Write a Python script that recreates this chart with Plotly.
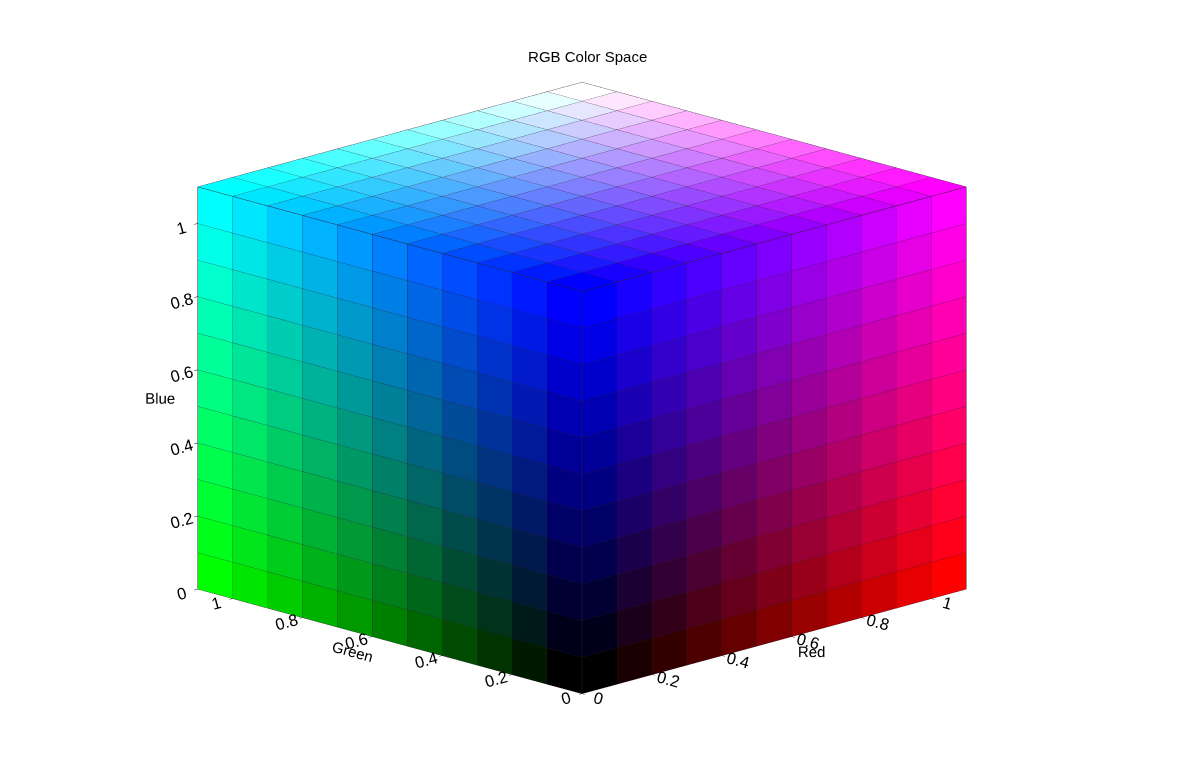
import plotly.graph_objects as go

# colour levels of the small cubes (one per cell along each edge)
levels = [0.0, 0.1, 0.2, 0.3, 0.4, 0.5, 0.6, 0.7, 0.8, 0.9, 1.0]
cell = 0.1
top = 1.1
tick_vals = [0, 0.2, 0.4, 0.6, 0.8, 1]
tick_text = ["0", "0.2", "0.4", "0.6", "0.8", "1"]

xs, ys, zs, I, J, K, fc = [], [], [], [], [], [], []
lx, ly, lz = [], [], []


def rgb(r, g, b):
    return "rgb(%d,%d,%d)" % (round(r * 255), round(g * 255), round(b * 255))


def quad(p0, p1, p2, p3, color):
    n = len(xs)
    for p in (p0, p1, p2, p3):
        xs.append(p[0]); ys.append(p[1]); zs.append(p[2])
    I.extend([n, n]); J.extend([n + 1, n + 2]); K.extend([n + 2, n + 3])
    fc.extend([color, color])
    for p in (p0, p1, p2, p3, p0):
        lx.append(p[0]); ly.append(p[1]); lz.append(p[2])
    lx.append(None); ly.append(None); lz.append(None)


for a in levels:
    for b in levels:
        a0, a1 = a, a + cell
        b0, b1 = b, b + cell
        # red = 0 face (green x blue)
        quad((0, a0, b0), (0, a1, b0), (0, a1, b1), (0, a0, b1), rgb(0, a, b))
        # green = 0 face (red x blue)
        quad((a0, 0, b0), (a1, 0, b0), (a1, 0, b1), (a0, 0, b1), rgb(a, 0, b))
        # blue = top face (red x green)
        quad((a0, b0, top), (a1, b0, top), (a1, b1, top), (a0, b1, top), rgb(a, b, 1))

fig = go.Figure()
fig.add_trace(go.Mesh3d(x=xs, y=ys, z=zs, i=I, j=J, k=K, facecolor=fc,
                        flatshading=True, hoverinfo="skip",
                        lighting=dict(ambient=1, diffuse=0, specular=0, roughness=1, fresnel=0)))
fig.add_trace(go.Scatter3d(x=lx, y=ly, z=lz, mode="lines",
                           line=dict(color="rgb(50,30,50)", width=1), hoverinfo="skip"))

ax = dict(range=[0, top], tickvals=tick_vals, ticktext=tick_text, showgrid=False,
          showbackground=False, zeroline=False, showline=False, showspikes=False,
          tickfont=dict(family="Liberation Sans", size=14, color="black"),
          ticks="outside", ticklen=5, tickcolor="black")
title_font = dict(family="Liberation Sans", size=15, color="black")

fig.update_layout(
    width=1183, height=784, showlegend=False,
    paper_bgcolor="white",
    title=dict(text="RGB Color Space", x=0.49, y=0.945, xanchor="center",
               font=dict(family="Liberation Sans", size=15, color="black")),
    margin=dict(l=0, r=0, t=0, b=0),
    scene=dict(
        xaxis=dict(ax, title=dict(text="Red", font=title_font)),
        yaxis=dict(ax, title=dict(text="Green", font=title_font)),
        zaxis=dict(ax, title=dict(text="Blue", font=title_font)),
        aspectmode="manual",
        aspectratio=dict(x=1.43, y=1.43, z=1.1),
        camera=dict(eye=dict(x=-0.80, y=-0.80, z=0.32),
                    center=dict(x=0, y=0, z=0),
                    projection=dict(type="orthographic")),
        domain=dict(x=[0.0, 0.97], y=[0.03, 1.0]),
    ),
)

fig.write_html("out.html")
